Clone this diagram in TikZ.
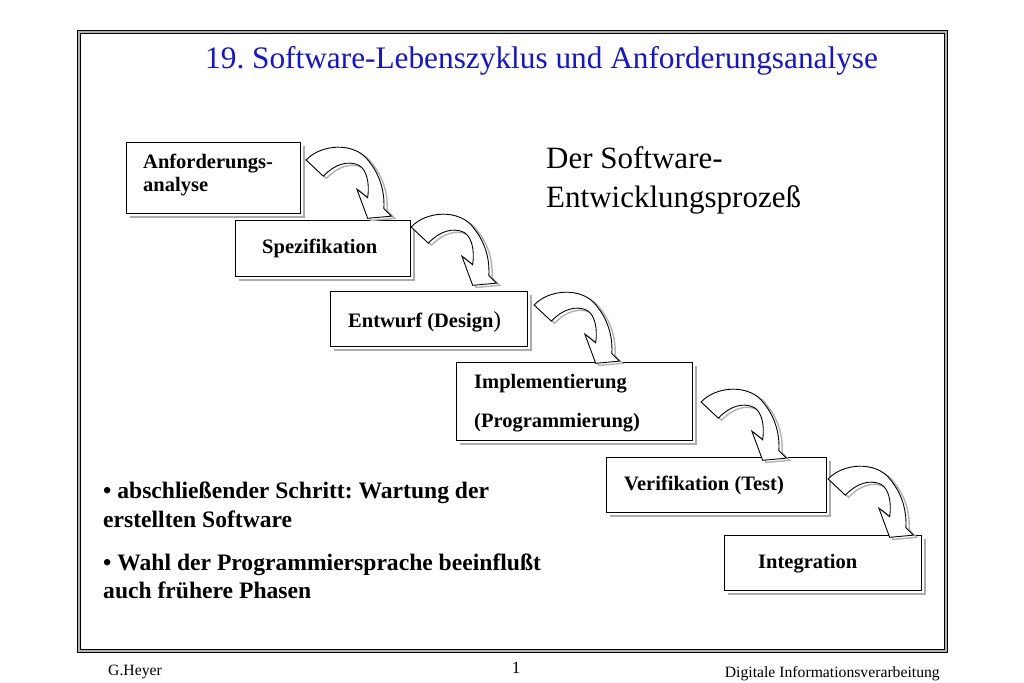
\documentclass[tikz,border=0pt]{standalone}
\usepackage{fontspec}
\setmainfont{Liberation Serif}
\usetikzlibrary{calc}
\definecolor{titleblue}{RGB}{20,20,215}
\def\arrowpath{(0,0) .. controls (14,-15) and (45,-17) .. (58,1) .. controls (67,12) and (73,27) .. (72,45) -- (79,52) -- (57,54) -- (47,27) -- (57,35) .. controls (59,21) and (56,9) .. (49,5) .. controls (39,0) and (26,4) .. (16,15) -- cycle}
\begin{document}
\frenchspacing
\begin{tikzpicture}[x=1pt,y=-1pt,
  stepbox/.style={draw=black,line width=1.1pt,fill=white,rectangle,inner sep=0pt,anchor=north west},
  boxshade/.style={draw=gray!65,line width=1.6pt},
  boxtext/.style={anchor=base west,inner sep=0pt,font=\fontsize{20.5}{24}\selectfont\bfseries},
  bullettext/.style={anchor=base west,inner sep=0pt,font=\fontsize{23.6}{27}\selectfont\bfseries},
  footer/.style={inner sep=0pt,font=\fontsize{15.7}{18}\selectfont},
  curlarrow/.pic={
    \begin{scope}[scale=1.08]
    \path[fill=white,draw=gray!60,line width=1.4pt,shift={(3,2)}] \arrowpath;
    \path[fill=white,draw=black,line width=0.9pt] \arrowpath;
    \end{scope}
  }]
\useasboundingbox (0,0) rectangle (1024,682);
\fill[white] (0,0) rectangle (1024,682);
% frame
\draw[line width=4pt,black] (78.5,32) rectangle (946,651);
\draw[line width=2pt,gray!60] (78.5,32) rectangle (946,651);
% title
\node[anchor=base west,inner sep=0pt,text=titleblue,font=\fontsize{31.3}{36}\selectfont] (title) at (205,69) {19. Software-Lebenszyklus und Anforderungsanalyse};
\node[anchor=base west,inner sep=0pt,font=\fontsize{31}{36}\selectfont] (sub1) at (546,168) {Der Software-};
\node[anchor=base west,inner sep=0pt,font=\fontsize{31}{36}\selectfont] (sub2) at (546,207) {Entwicklungsprozeß};
% boxes
\node[stepbox,minimum width=174pt,minimum height=71pt] (b1) at (126,142) {};
\node[stepbox,minimum width=175pt,minimum height=56pt] (b2) at (235,220) {};
\node[stepbox,minimum width=197pt,minimum height=55pt] (b3) at (330,291) {};
\node[stepbox,minimum width=236pt,minimum height=78pt] (b4) at (456,362) {};
\node[stepbox,minimum width=220pt,minimum height=55pt] (b5) at (606,457) {};
\node[stepbox,minimum width=197pt,minimum height=55pt] (b6) at (724,535) {};
\foreach \b in {b1,b2,b3,b4,b5,b6}{
  \draw[boxshade] ($(\b.north east)+(3,4)$) -- ($(\b.south east)+(3,3)$) -- ($(\b.south west)+(4,3)$);
}
% box texts
\node[boxtext] (t1a) at (143,168) {Anforderungs-};
\node[boxtext] (t1b) at (143,191) {analyse};
\node[boxtext] (t2) at (262,253) {Spezifikation};
\node[boxtext] (t3) at (348,327) {Entwurf (Design{\fontsize{23}{24}\selectfont\mdseries)}};
\node[boxtext] (t4a) at (474,388) {Implementierung};
\node[boxtext] (t4b) at (474,427) {(Programmierung)};
\node[boxtext] (t5) at (624,490) {Verifikation (Test)};
\node[boxtext] (t6) at (758,568) {Integration};
% curled arrows
\pic at ($(b1.north east)+(5,18)$) {curlarrow};
\pic at ($(b2.north east)+(0,7)$) {curlarrow};
\pic at ($(b3.north east)+(6,14)$) {curlarrow};
\pic at ($(b4.north east)+(8,40)$) {curlarrow};
\pic at ($(b5.north east)+(1,22)$) {curlarrow};
% bullets
\node[bullettext] (p1) at (103,498) {\textbullet\ abschließender Schritt: Wartung der};
\node[bullettext] (p2) at (103,527) {erstellten Software};
\node[bullettext] (p3) at (103,570) {\textbullet\ Wahl der Programmiersprache beeinflußt};
\node[bullettext] (p4) at (103,598) {auch frühere Phasen};
% footer
\node[footer,anchor=base west] (f1) at (108,675) {G.Heyer};
\node[footer,anchor=base,font=\fontsize{17}{18}\selectfont] (f2) at (516,673) {1};
\node[footer,anchor=base east] (f3) at (940,677) {Digitale Informationsverarbeitung};
\end{tikzpicture}
\end{document}
